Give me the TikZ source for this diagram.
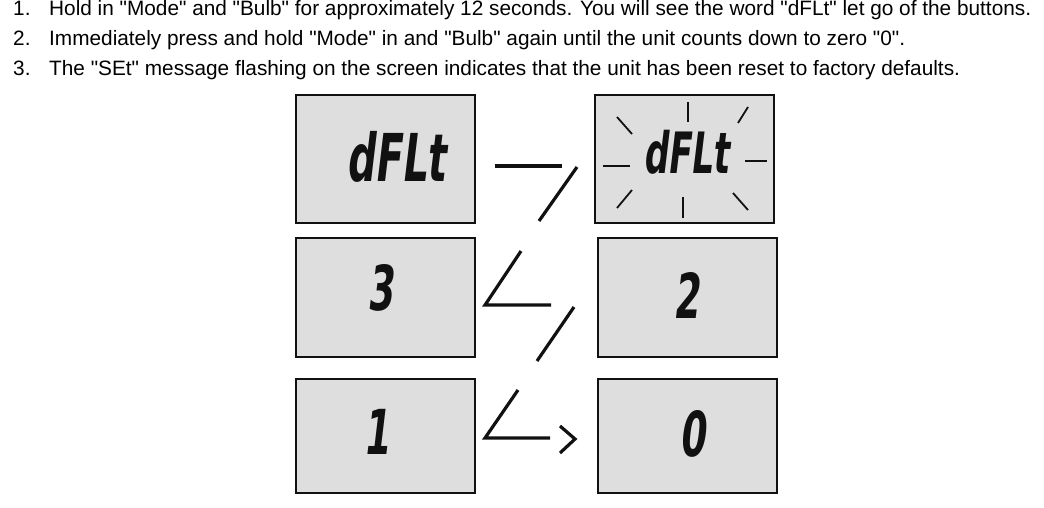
\documentclass[tikz,border=0pt]{standalone}
\usepackage{fontspec}
\newfontfamily\instrfont{Liberation Sans}
\newfontfamily\lcdfont{DejaVu Sans}[FakeStretch=0.6,FakeSlant=0.12]
\usepackage{tikz}
\usetikzlibrary{positioning,calc}
\definecolor{ink}{HTML}{111111}
\definecolor{lcdgray}{HTML}{DEDEDE}
\tikzset{
    every picture/.style={line cap=round,line join=round},
    lcdbox/.style={draw=ink,fill=lcdgray,line width=2pt,line join=miter,
      minimum width=179pt,inner sep=0pt,outer sep=0pt},
    lcdtext/.style={font=\lcdfont\bfseries\fontsize{#1}{#1}\selectfont,
      text=ink,inner sep=0pt},
    lcdtext/.default=62pt,
    ray/.style={draw=ink,line width=1.8pt,line cap=butt},
    zigline/.style={draw=ink,line width=3.2pt,line cap=butt,line join=miter},
    itemnum/.style={anchor=base west,inner sep=0pt,font=\instrfont\fontsize{20.8}{24}\selectfont},
    itemtext/.style={itemnum}
}

\begin{document}
\begin{tikzpicture}[x=1pt,y=-1pt]
    \useasboundingbox (0,0) rectangle (1044,507);
    \node[itemnum] (n1) at (13,15) {1.};
    \node[itemtext] (t1) at (49,15) {Hold in "Mode" and "Bulb" for approximately 12 seconds. You will see the word "dFLt" let go of the buttons.};
    \node[itemnum] (n2) at (13,45) {2.};
    \node[itemtext] (t2) at (49,45) {Immediately press and hold "Mode" in and "Bulb" again until the unit counts down to zero "0".};
    \node[itemnum] (n3) at (13,75) {3.};
    \node[itemtext] (t3) at (49,75) {The "SEt" message flashing on the screen indicates that the unit has been reset to factory defaults.};

    \node[lcdbox,minimum height=128pt] (dflt) at (385.5,159) {};
    \node[lcdbox,minimum height=128pt,right=120pt of dflt] (flash) {};
    \node[lcdbox,minimum height=119pt,below=15pt of dflt] (three) {};
    \node[lcdbox,minimum height=119pt,right=123pt of three] (two) {};
    \node[lcdbox,minimum height=114pt,below=22pt of three] (one) {};
    \node[lcdbox,minimum height=114pt,right=123pt of one] (zero) {};

    \node[lcdtext=66pt] (dflttxt) at ($(dflt)+(10.5,-2)$) {dFLt};
    \node[lcdtext=57pt] (flashtxt) at ($(flash)+(1.5,-7)$) {dFLt};
    \node[lcdtext] (threetxt) at ($(three)+(-5.5,-9.5)$) {3};
    \node[lcdtext] (twotxt) at ($(two)+(-1.5,-2.5)$) {2};
    \node[lcdtext] (onetxt) at ($(one)+(-9.5,-4)$) {1};
    \node[lcdtext] (zerotxt) at ($(zero)+(4.5,-2)$) {0};

    \draw[ray] (688,102) -- (688,122);
    \draw[ray] (683,197) -- (683,218);
    \draw[ray] (603,166) -- (630,166);
    \draw[ray] (745,161) -- (767,161);
    \draw[ray] (617,117) -- (632,134);
    \draw[ray] (748,107) -- (738,123);
    \draw[ray] (617,208) -- (632,190);
    \draw[ray] (733,193) -- (748,210);

    \coordinate (r1a) at (495,166);
    \coordinate (r1b) at (562,166);
    \coordinate (r1c) at (577,167);
    \coordinate (r1d) at (539,221);
    \coordinate (r2a) at (521,251);
    \coordinate (r2b) at (485,305);
    \coordinate (r2c) at (551,305);
    \coordinate (r2d) at (574,307);
    \coordinate (r2e) at (537,361);
    \coordinate (r3a) at (518,390);
    \coordinate (r3b) at (485,438);
    \coordinate (r3c) at (550,438);
    \coordinate (tipa) at (560,426);
    \coordinate (tipb) at (575,439);
    \coordinate (tipc) at (560,453);
    \draw[zigline] (r1a) -- (r1b);
    \draw[zigline] (r1c) -- (r1d);
    \draw[zigline] (r2a) -- (r2b) -- (r2c);
    \draw[zigline] (r2d) -- (r2e);
    \draw[zigline] (r3a) -- (r3b) -- (r3c);
    \draw[zigline] (tipa) -- (tipb) -- (tipc);
\end{tikzpicture}
\end{document}
